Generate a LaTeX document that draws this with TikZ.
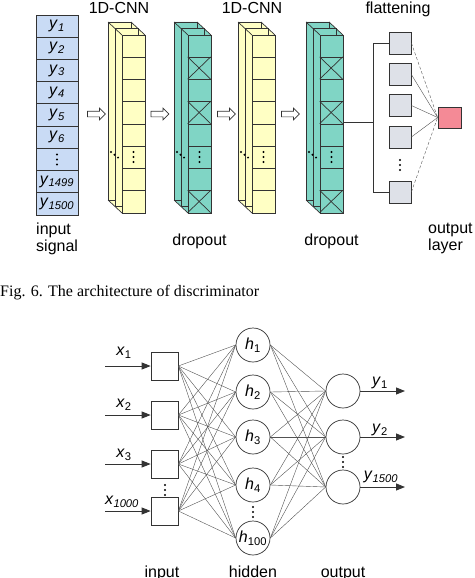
\documentclass[tikz,border=0pt]{standalone}
\usepackage{fontspec}
\setmainfont{Liberation Sans}
\newfontfamily\capfont{Liberation Serif}
\usetikzlibrary{positioning,shapes.arrows,arrows.meta,calc}
\definecolor{dcSignal}{HTML}{C9DBF5}
\definecolor{dcConv}{HTML}{FFFFC4}
\definecolor{dcDrop}{HTML}{80D5C5}
\definecolor{dcFlat}{HTML}{DEE1E8}
\definecolor{dcOut}{HTML}{F48A96}
\definecolor{dcLine}{HTML}{333333}
\newcommand{\ysig}[1]{\textit{y}\textsubscript{\textit{#1}}}
\newcommand{\hsub}[1]{\textit{h}\textsubscript{#1}}
\tikzset{
    dcText/.style={font=\fontsize{16}{17}\selectfont, inner sep=0pt},
    sigCell/.style={
        rectangle,
        draw=dcLine,
        fill=dcSignal,
        line width=0.8pt,
        minimum width=42pt,
        minimum height=22.22pt,
        inner sep=0pt,
        font=\fontsize{16}{17}\selectfont
    },
    dcSlab/.style={rectangle, draw=dcLine, line width=0.7pt, minimum width=23pt, minimum height=178pt, inner sep=0pt},
    hollow/.style={
        single arrow,
        draw=dcLine,
        fill=white,
        line width=0.7pt,
        minimum height=18pt,
        inner sep=2.5pt,
        single arrow head extend=3pt
    },
    % flattening part
    flatBox/.style={rectangle, draw=dcLine, fill=dcFlat, line width=0.7pt, minimum size=22pt, inner sep=0pt},
    outBox/.style={rectangle, draw=dcLine, fill=dcOut, line width=0.7pt, minimum width=23pt, minimum height=21pt, inner sep=0pt},
    % network part
    inBox/.style={rectangle, draw=dcLine, fill=white, line width=0.7pt, minimum width=27pt, minimum height=28pt, inner sep=0pt},
    unit/.style={circle, draw=dcLine, fill=white, line width=0.7pt, minimum size=34pt, inner sep=0pt, font=\fontsize{16}{17}\selectfont}
}
% three stacked feature maps, front face starting at x=#2
\newcommand{\slabstack}[3]{%
    \fill[#3] (#2-14,22) -- (#2+9,22) -- (#2+23,35) -- (#2+23,213) -- (#2,213) -- (#2-14,200) -- cycle;
    \draw[dcLine, line width=0.7pt, fill=#3] (#2-14,22) rectangle (#2+9,200);
    \draw[dcLine, line width=0.7pt, fill=#3] (#2-7,28.5) rectangle (#2+16,206.5);
    \node[dcSlab, fill=#3] (#1) at (#2+11.5,124) {};
    \draw[dcLine, line width=0.7pt] (#2-14,22) -- (#2,35) (#2+9,22) -- (#2+23,35) (#2-14,200) -- (#2,213);
    \foreach \k in {1,...,7}
        \draw[dcLine, line width=0.9pt] (#2,{35+\k*22.25}) -- ++(23,0);
    \foreach \k in {0,1,2} {
        \fill (#2+11.5,{152+\k*5}) circle (1.1);
        \fill ({#2-11+\k*3.5},{152+\k*2.8}) circle (1.1);
    }
}

\begin{document}
\begin{tikzpicture}[
    x=1pt, y=-1pt,
    arr/.style={-{Triangle[length=9pt,width=7pt]}, line width=0.9pt, draw=dcLine},
    web/.style={draw=dcLine!85, line width=0.4pt},
    flat/.style={draw=dcLine, line width=0.7pt}
]
\useasboundingbox (0,0) rectangle (474,578);

% input signal
\foreach \lab [count=\i] in {\ysig{1},\ysig{2},\ysig{3},\ysig{4},\ysig{5},\ysig{6},{},\ysig{1499},\ysig{1500}}
    \node[sigCell] (sig\i) at (57,{3.89+\i*22.22}) {\lab};
\foreach \k in {-5,0,5}
    \fill (sig7.center) ++(0,\k) circle (1.1);
\node[dcText, align=left, anchor=base west] (sigLbl) at (36,251) {input\\signal};

% conv / dropout stacks
\slabstack{cnnA}{122}{dcConv}
\slabstack{dropA}{188}{dcDrop}
\slabstack{cnnB}{252}{dcConv}
\slabstack{dropB}{320}{dcDrop}
\foreach \s in {dropA,dropB}
    \foreach \k in {1,3,7} {
        \draw[dcLine, line width=0.7pt] ($(\s.north west)+(0,\k*22.25)$) -- ++(23,22.25);
        \draw[dcLine, line width=0.7pt] ($(\s.north west)+(0,\k*22.25+22.25)$) -- ++(23,-22.25);
    }

\node[hollow] (stepA) at (95,114) {};
\node[hollow] (stepB) at (158.5,114) {};
\node[hollow] (stepC) at (225,114) {};
\node[hollow] (stepD) at (289,114) {};

\node[dcText, anchor=base] (cnnLblA) at (119,13.5) {1D-CNN};
\node[dcText, anchor=base] (cnnLblB) at (252,13.5) {1D-CNN};
\node[dcText, below=20.5pt of dropA] (dropLblA) {dropout};
\node[dcText, below=20.5pt of dropB] (dropLblB) {dropout};

% flattening
\foreach \yy [count=\i] in {43,74.5,105.5,137,192}
    \node[flatBox] (fl\i) at (400,\yy) {};
\foreach \k in {160,165,170}
    \fill (400,\k) circle (1.1);
\node[outBox] (outN) at (449.5,117.5) {};
\coordinate (brkMid) at (373,122);
\draw[flat] (dropB.east |- brkMid) -- (brkMid);
\draw[flat] (fl1.west) -| (brkMid);
\draw[flat] (fl5.west) -| (brkMid);
\foreach \i in {2,3,4}
    \draw[web] (fl\i.east) -- (outN.west);
\foreach \i in {1,5}
    \draw[web, densely dashed] (fl\i.east) -- (outN.west);
\node[dcText, anchor=base] (flatLbl) at (398,13.5) {flattening};
\node[dcText, align=left, anchor=base west] (outLbl) at (428,250) {output\\layer};

\node[anchor=base west, inner sep=0pt, font=\capfont\fontsize{16}{18}\selectfont] (cap) at (0,296.5) {Fig. 6. The architecture of discriminator};

% fully connected generator net
\foreach \yy [count=\i] in {366,415,464,511} {
    \node[inBox] (in\i) at (164.5,\yy) {};
    \coordinate (xs\i) at (105,\yy);
    \draw[arr] (xs\i) -- (in\i.west);
}
\foreach \yy/\lab [count=\i] in {345/\hsub{1},392/\hsub{2},437/\hsub{3},485/\hsub{4},538/\hsub{100}}
    \node[unit] (hid\i) at (253,\yy) {\lab};
\foreach \yy [count=\i] in {391,437,487} {
    \node[unit] (out\i) at (343,\yy) {};
    \coordinate (ys\i) at (405,\yy);
}
\foreach \a in {1,...,4}
    \foreach \b in {1,...,5}
        \draw[web] (in\a.east) -- (hid\b.west);
\foreach \a in {1,...,5}
    \foreach \b in {1,...,3}
        \draw[web] (hid\a.east) -- (out\b.west);
\foreach \i in {1,2,3}
    \draw[arr] (out\i.east) -- (ys\i);

\foreach \k in {-5,0,5} {
    \fill (165,490+\k) circle (1.1);
    \fill (253,512+\k) circle (1.1);
    \fill (343,462+\k) circle (1.1);
}

\node[dcText] (xl1) at (124,353) {\textit{x}\textsubscript{1}};
\node[dcText] (xl2) at (124,405) {\textit{x}\textsubscript{2}};
\node[dcText] (xl3) at (124,455) {\textit{x}\textsubscript{3}};
\node[dcText] (xl4) at (122,502) {\textit{x}\textsubscript{\textit{1000}}};
\node[dcText] (yl1) at (380,383) {\textit{y}\textsubscript{1}};
\node[dcText] (yl2) at (380,430) {\textit{y}\textsubscript{2}};
\node[dcText] (yl3) at (381,477) {\textit{y}\textsubscript{\textit{1500}}};

\node[dcText, anchor=base] (inLbl) at (162,577) {input};
\node[dcText, anchor=base] (hidLbl) at (253,577) {hidden};
\node[dcText, anchor=base] (outNetLbl) at (343,577) {output};
\end{tikzpicture}
\end{document}
